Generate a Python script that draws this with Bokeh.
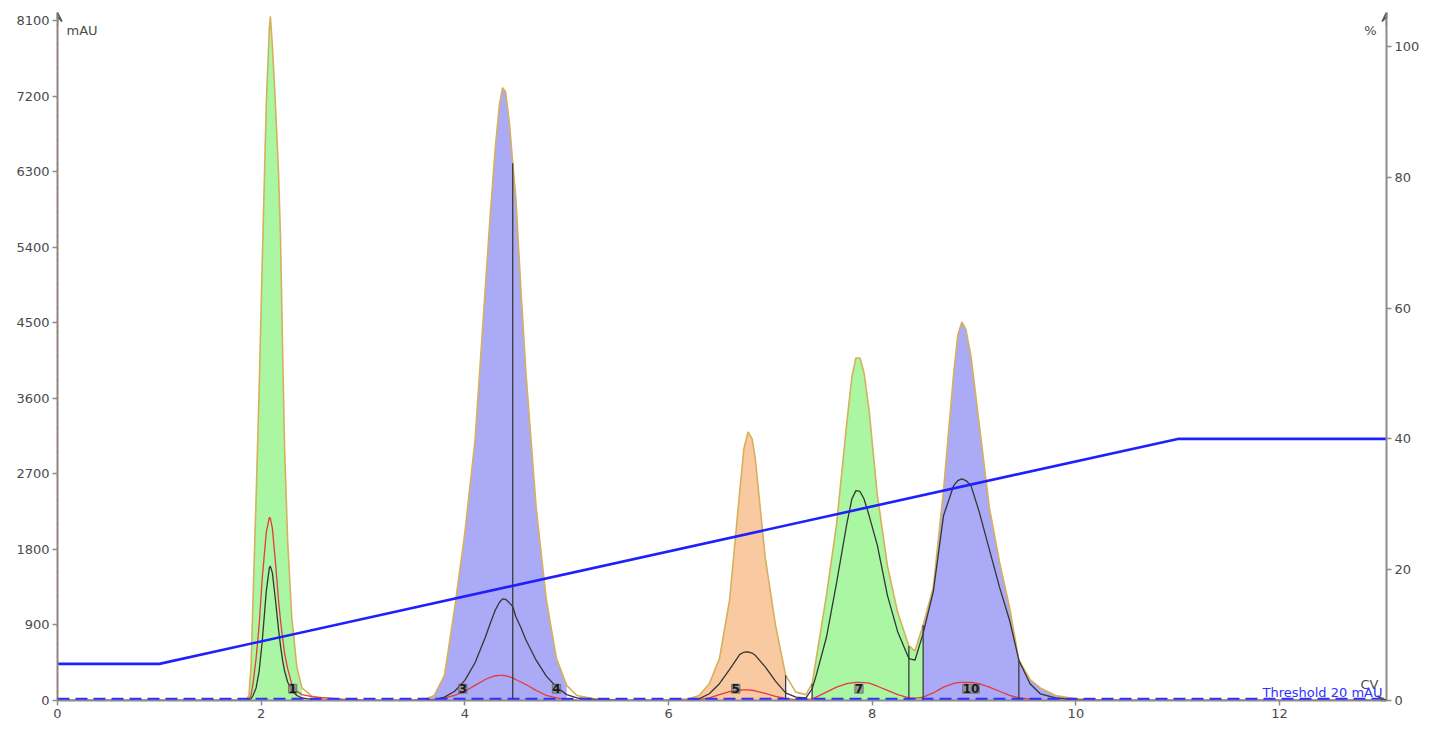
from bokeh.plotting import figure
from bokeh.models import (Range1d, LinearAxis, FixedTicker, Span, Label, LabelSet,
                          ColumnDataSource, Arrow, VeeHead)
from bokeh.core.properties import value
from bokeh.embed import file_html
from bokeh.resources import INLINE

# ---- data ----
cv = [0.0, 1.0, 1.8, 1.85, 1.88, 1.9, 1.92, 1.95, 1.98, 2.01, 2.05, 2.08, 2.09, 2.11, 2.14,
      2.17, 2.19, 2.21, 2.23, 2.26, 2.3, 2.35, 2.4, 2.5, 2.6, 2.8, 3.0, 3.4, 3.6, 3.7, 3.8,
      3.9, 4.0, 4.1, 4.2, 4.25, 4.3, 4.34, 4.37, 4.4, 4.44, 4.47, 4.5, 4.55, 4.6, 4.7, 4.8,
      4.9, 5.0, 5.1, 5.3, 5.6, 6.0, 6.2, 6.3, 6.4, 6.5, 6.6, 6.7, 6.74, 6.78, 6.82, 6.85,
      6.95, 7.05, 7.15, 7.25, 7.35, 7.41, 7.45, 7.55, 7.65, 7.75, 7.8, 7.84, 7.88, 7.92,
      7.97, 8.05, 8.15, 8.25, 8.36, 8.42, 8.5, 8.6, 8.7, 8.8, 8.84, 8.88, 8.92, 8.97, 9.05,
      9.15, 9.25, 9.35, 9.44, 9.55, 9.65, 9.8, 10.0, 10.2, 10.5, 11.0, 13.05]
uv_main = [0, 0, 0, 5, 60, 400, 1200, 2400, 3700, 5200, 7100, 8000, 8150, 7800, 7100,
           6300, 5500, 4200, 3000, 1900, 1000, 400, 150, 50, 20, 8, 3, 0, 10, 60, 300,
           1100, 2000, 3100, 4900, 5800, 6600, 7100, 7300, 7250, 6850, 6400, 6000, 4900, 3900, 2300, 1200,
           500, 180, 60, 15, 3, 3, 20, 60, 200, 500, 1200, 2500, 3000, 3200, 3120, 2900,
           1700, 900, 300, 100, 70, 200, 500, 1250, 2100, 3300, 3850, 4080, 4080, 3900,
           3450, 2450, 1600, 1050, 650, 590, 900, 1350, 2500, 3900, 4350, 4510, 4420, 4100, 3300,
           2300, 1650, 1100, 480, 250, 150, 60, 20, 10, 3, 0, 0]
uv_black = [0, 0, 0, 0, 5, 20, 60, 150, 350, 700, 1300, 1580, 1600, 1520, 1200,
            850, 650, 480, 350, 220, 120, 60, 30, 10, 5, 0, 0, 0, 0, 10, 40,
            110, 240, 450, 750, 920, 1080, 1170, 1210, 1205, 1160, 1120, 1000, 870, 720, 480, 290,
            160, 70, 30, 10, 0, 0, 5, 20, 80, 200, 370, 550, 575, 580, 565, 540,
            400, 230, 90, 40, 30, 140, 300, 750, 1400, 2100, 2400, 2500, 2490, 2400,
            2200, 1850, 1250, 820, 500, 480, 800, 1300, 2200, 2560, 2620, 2640, 2620, 2560, 2250,
            1800, 1350, 950, 480, 200, 80, 30, 10, 0, 0, 0, 0]
uv_red = [0, 0, 0, 0, 20, 60, 200, 500, 900, 1450, 2000, 2180, 2170, 2050, 1650,
          1200, 950, 750, 560, 380, 200, 110, 70, 45, 35, 15, 5, 0, 5, 10, 30,
          60, 110, 180, 250, 275, 295, 299, 300, 295, 282, 270, 250, 220, 190, 120, 60,
          30, 10, 5, 0, 0, 0, 5, 10, 30, 70, 105, 125, 127, 127, 122, 115,
          85, 50, 25, 10, 10, 20, 40, 100, 160, 200, 210, 215, 215, 213,
          208, 170, 120, 70, 30, 25, 40, 90, 160, 205, 212, 215, 216, 215, 200,
          160, 110, 60, 30, 15, 5, 0, 0, 0, 0, 0, 0]

grad_cv = [0, 1, 11, 13.05]
grad_pct = [5.6, 5.6, 40, 40]
threshold_mau = 20

frac_regions = [(1.85, 2.4), (3.6, 5.0), (6.2, 7.15), (7.41, 8.5), (8.5, 10.2)]
frac_colors = ["#aaf6a2", "#aaaaf6", "#f9c9a2", "#aaf6a2", "#aaaaf6"]
frac_cuts = [4.47, 7.15, 7.41, 8.36, 8.5, 9.44]
label_cv = [2.31, 3.98, 4.90, 6.66, 7.87, 8.97]
label_txt = ["1", "3", "4", "5", "7", "10"]
label_mau = [140, 140, 140, 140, 140, 140]

mau_ticks = [0, 900, 1800, 2700, 3600, 4500, 5400, 6300, 7200, 8100]
pct_ticks = [0, 20, 40, 60, 80, 100]
cv_ticks = [0, 2, 4, 6, 8, 10, 12]

X_END = 13.05
Y_END = 8195
PCT_END = 105.2

FONT = "DejaVu Sans"
AX = "#8c8c8c"
TXT = "#4a4a4a"

p = figure(width=1422, height=726, output_backend="svg", toolbar_location=None,
           x_range=Range1d(0, X_END), y_range=Range1d(0, Y_END),
           min_border_left=57, min_border_right=34, min_border_top=12, min_border_bottom=26)
p.outline_line_color = None
p.xgrid.visible = False
p.ygrid.visible = False
p.extra_y_ranges = {"pct": Range1d(0, PCT_END)}

# fraction fills
for (a, b), col in zip(frac_regions, frac_colors):
    xs = [x for x in cv if a <= x <= b]
    ys = [uv_main[cv.index(x)] for x in xs]
    p.varea(x=xs, y1=[0] * len(xs), y2=ys, fill_color=col, fill_alpha=1.0)

# traces
p.line(cv, uv_main, line_color="#d6b05a", line_width=1.6)
p.line(cv, uv_red, line_color="#e83a3a", line_width=1.3)
p.line(cv, uv_black, line_color="#353535", line_width=1.3)

# fraction cut lines
cut_tops = [uv_main[cv.index(c)] for c in frac_cuts]
p.segment(x0=frac_cuts, y0=[0] * len(frac_cuts), x1=frac_cuts, y1=cut_tops,
          line_color="#3a3a3a", line_width=1.3)

# gradient
p.line(grad_cv, grad_pct, y_range_name="pct", line_color="#2020ff", line_width=2.6)

# threshold
p.add_layout(Span(location=threshold_mau, dimension="width", line_color="#3030ff",
                  line_dash="12 6", line_width=2))

# fraction labels
lsrc = ColumnDataSource(dict(x=label_cv, y=label_mau, t=label_txt))
p.add_layout(LabelSet(x="x", y="y", text="t", source=lsrc, text_font=value(FONT),
                      text_font_size=value("12px"), text_color="#1a1a1a", text_align="center",
                      text_baseline="middle", text_font_style="bold",
                      background_fill_color="#8c8c8c", background_fill_alpha=0.8,
                      border_line_color="#555555", border_line_alpha=0.6))

# axes styling
def style_axis(ax):
    ax.axis_line_color = AX
    ax.axis_line_width = 2
    ax.major_tick_line_color = AX
    ax.major_tick_line_width = 1.5
    ax.major_tick_out = 5
    ax.major_tick_in = 0
    ax.minor_tick_line_color = None
    ax.major_label_text_color = TXT
    ax.major_label_text_font = FONT
    ax.major_label_text_font_size = "13px"
    ax.major_label_standoff = 3

p.xaxis.ticker = FixedTicker(ticks=cv_ticks)
p.yaxis.ticker = FixedTicker(ticks=mau_ticks)
style_axis(p.xaxis[0])
style_axis(p.yaxis[0])
right = LinearAxis(y_range_name="pct", ticker=FixedTicker(ticks=pct_ticks))
style_axis(right)
p.add_layout(right, "right")

# red dashed overlay on left axis
p.add_layout(Span(location=0, dimension="height", line_color="#c04848",
                  line_dash="3 3", line_width=1))

# axis arrows
p.add_layout(Arrow(end=VeeHead(size=9, line_color="#555555", line_width=1.5, fill_color=None),
                   x_start=0, y_start=Y_END - 150, x_end=0, y_end=Y_END,
                   line_color=AX, line_width=2))
p.add_layout(Arrow(end=VeeHead(size=9, line_color="#555555", line_width=1.5, fill_color=None),
                   x_start=X_END, y_start=PCT_END - 2, x_end=X_END, y_end=PCT_END,
                   y_range_name="pct", line_color=AX, line_width=2))
p.add_layout(Arrow(end=VeeHead(size=9, line_color="#555555", line_width=1.5, fill_color=None),
                   x_start=X_END - 0.2, y_start=0, x_end=X_END, y_end=0,
                   line_color=AX, line_width=2))

# axis unit labels
p.add_layout(Label(x=0, y=8100, text="mAU", x_offset=9, y_offset=-3, text_baseline="top",
                   text_font=FONT, text_font_size="13px", text_color=TXT))
p.add_layout(Label(x=X_END, y=100, y_range_name="pct", text="%", x_offset=-10, y_offset=9,
                   text_align="right", text_baseline="bottom",
                   text_font=FONT, text_font_size="13px", text_color=TXT))
p.add_layout(Label(x=X_END, y=0, text="CV", x_offset=-8, y_offset=9,
                   text_align="right", text_baseline="bottom",
                   text_font=FONT, text_font_size="13px", text_color=TXT))
p.add_layout(Label(x=X_END, y=0, text="Threshold 20 mAU", x_offset=-4, y_offset=1,
                   text_align="right", text_baseline="bottom",
                   text_font=FONT, text_font_size="13px", text_color="#3030ff"))

open("out.html", "w").write(file_html(p, INLINE))
